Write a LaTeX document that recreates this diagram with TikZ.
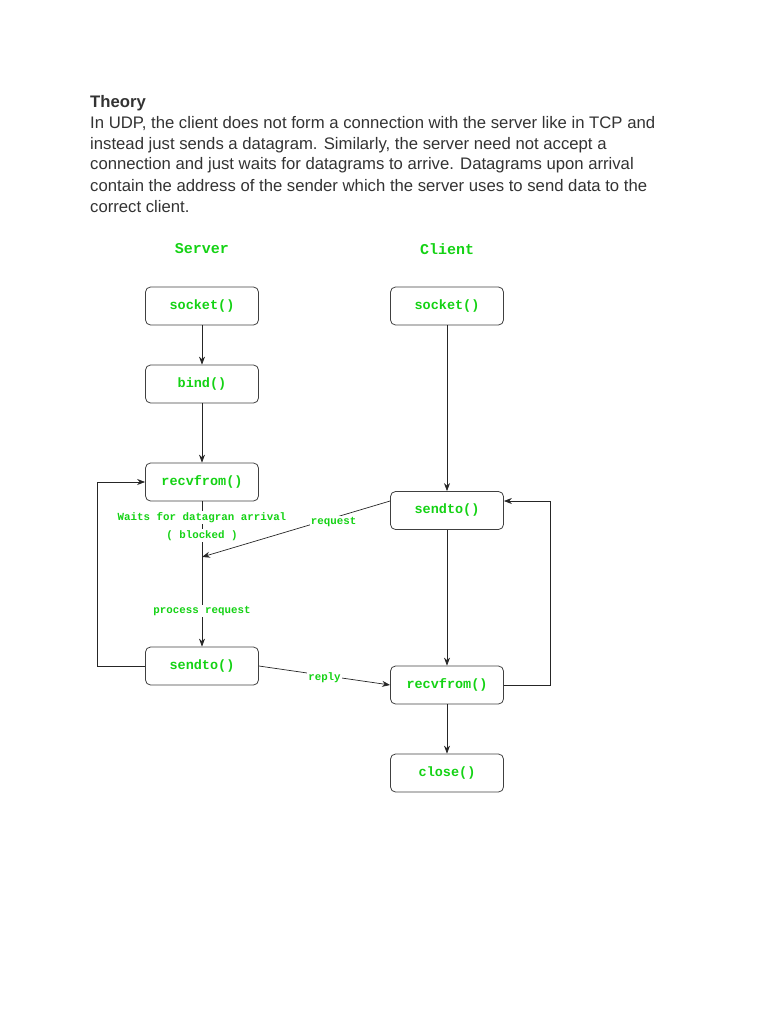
\documentclass[tikz,border=0pt]{standalone}
\usepackage{fontspec}
\setmainfont{Liberation Sans}
\newfontfamily\monob{Liberation Mono}
\usetikzlibrary{arrows.meta}
\definecolor{gtxt}{RGB}{20,210,20}
\definecolor{bodyc}{RGB}{51,51,51}
\tikzset{
  box/.style={draw=black!75, line width=0.8pt, rounded corners=5pt, minimum width=113pt, minimum height=38pt, inner sep=0pt, font=\monob\bfseries\fontsize{13.5}{14}\selectfont, text=gtxt},
  head/.style={font=\monob\bfseries\fontsize{15}{16}\selectfont, text=gtxt},
  lab/.style={font=\monob\bfseries\fontsize{10.8}{11}\selectfont, text=gtxt, fill=white, inner sep=1pt},
  body/.style={anchor=west, font=\fontsize{16.7}{18}\selectfont, text=bodyc, inner sep=0pt},
  conn/.style={draw=black!85, line width=0.7pt},
  arr/.style={conn, -{Stealth[length=8pt,width=6pt]}},
}
\begin{document}
\begin{tikzpicture}[x=1pt,y=-1pt]
\useasboundingbox (0,0) rectangle (768,1024);
\node[body, font=\bfseries\fontsize{16.7}{18}\selectfont] (t0) at (90,103) {Theory};
\node[body] (t1) at (90,124) {In UDP, the client does not form a connection with the server like in TCP and};
\node[body] (t2) at (90,145) {instead just sends a datagram. Similarly, the server need not accept a};
\node[body] (t3) at (90,165) {connection and just waits for datagrams to arrive. Datagrams upon arrival};
\node[body] (t4) at (90,186) {contain the address of the sender which the server uses to send data to the};
\node[body] (t5) at (90,207) {correct client.};

\node[head] (hs) at (202,249) {Server};
\node[head] (hc) at (447,249) {Client};

\node[box] (ssock) at (202,306) {socket()};
\node[box] (sbind) at (202,384) {bind()};
\node[box] (srecv) at (202,482) {recvfrom()};
\node[box] (ssend) at (202,666) {sendto()};

\node[box] (csock) at (447,306) {socket()};
\node[box] (csend) at (447,510.5) {sendto()};
\node[box] (crecv) at (447,685) {recvfrom()};
\node[box] (cclose) at (447,773) {close()};

\draw[arr] (ssock) -- (sbind);
\draw[arr] (sbind) -- (srecv);
\draw[arr] (srecv) -- (ssend)
  node[lab, pos=0.11] (w1) {Waits for datagran arrival}
  node[lab, pos=0.235] (w2) {( blocked )}
  node[lab, pos=0.755] (pr) {process request};

\coordinate (rq) at (202,557);
\draw[arr] (csend.west |- 0,501) -- (rq) node[lab, pos=0.3, yshift=-4pt] (lrq) {request};
\draw[arr] (ssend.east) -- (crecv.west) node[lab, pos=0.5, yshift=-2pt] (lrp) {reply};

\coordinate (sl1) at (97,666);
\coordinate (sl2) at (97,482);
\draw[arr] (ssend.west) -- (sl1) -- (sl2) -- (srecv.west);

\coordinate (cl1) at (550,685);
\coordinate (cl2) at (550,501);
\draw[arr] (crecv.east) -- (cl1) -- (cl2) -- (csend.east |- 0,501);

\draw[arr] (csock) -- (csend);
\draw[arr] (csend) -- (crecv);
\draw[arr] (crecv) -- (cclose);
\end{tikzpicture}
\end{document}
